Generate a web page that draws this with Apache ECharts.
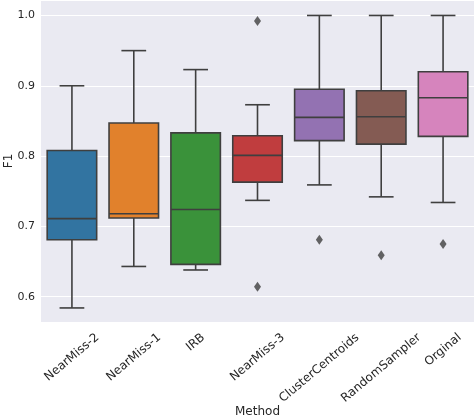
<!DOCTYPE html>
<html>
<head>
<meta charset="utf-8">
<script src="https://cdn.jsdelivr.net/npm/echarts@6/dist/echarts.min.js"></script>
<style>
  html, body { margin: 0; padding: 0; background: #fff; }
  #chart { width: 474px; height: 418px; }
</style>
</head>
<body>
<div id="chart"></div>
<script>
  const methods = ["NearMiss-2", "NearMiss-1", "IRB", "NearMiss-3", "ClusterCentroids", "RandomSampler", "Orginal"];
  const whiskerLow = [0.584, 0.643, 0.638, 0.737, 0.759, 0.742, 0.734];
  const q1 = [0.681, 0.712, 0.646, 0.763, 0.822, 0.817, 0.828];
  const median = [0.711, 0.718, 0.724, 0.801, 0.855, 0.856, 0.883];
  const q3 = [0.808, 0.847, 0.833, 0.829, 0.895, 0.893, 0.920];
  const whiskerHigh = [0.900, 0.950, 0.923, 0.873, 1.000, 1.000, 1.000];
  const outliers = [[3, 0.992], [3, 0.614], [4, 0.681], [5, 0.659], [6, 0.675]];
  const boxColors = ["#3274a1", "#e1812c", "#3a923a", "#c03d3e", "#9372b2", "#845b53", "#d684bd"];

  const yMin = 0.564;
  const yMax = 1.022;
  const edge = "#3f3f3f";
  const textColor = "#262626";
  const font = "DejaVu Sans";

  const boxData = methods.map((m, i) => [i, whiskerLow[i], q1[i], median[i], q3[i], whiskerHigh[i]]);

  function renderBox(params, api) {
    const i = api.value(0);
    const band = api.size([1, 0])[0];
    const half = band * 0.4;
    const cap = band * 0.2;
    const x = api.coord([i, api.value(1)])[0];
    const yLo = api.coord([i, api.value(1)])[1];
    const yQ1 = api.coord([i, api.value(2)])[1];
    const yMed = api.coord([i, api.value(3)])[1];
    const yQ3 = api.coord([i, api.value(4)])[1];
    const yHi = api.coord([i, api.value(5)])[1];
    const ls = { stroke: edge, lineWidth: 1.6 };
    return {
      type: "group",
      children: [
        { type: "line", shape: { x1: x, y1: yLo, x2: x, y2: yQ1 }, style: ls },
        { type: "line", shape: { x1: x, y1: yHi, x2: x, y2: yQ3 }, style: ls },
        { type: "line", shape: { x1: x - cap, y1: yLo, x2: x + cap, y2: yLo }, style: ls },
        { type: "line", shape: { x1: x - cap, y1: yHi, x2: x + cap, y2: yHi }, style: ls },
        {
          type: "rect",
          shape: { x: x - half, y: yQ3, width: half * 2, height: yQ1 - yQ3 },
          style: { fill: boxColors[i], stroke: edge, lineWidth: 1.6 }
        },
        { type: "line", shape: { x1: x - half, y1: yMed, x2: x + half, y2: yMed }, style: ls }
      ]
    };
  }

  const chart = echarts.init(document.getElementById("chart"));
  chart.setOption({
    animation: false,
    grid: {
      left: 41, right: 0, top: 0, bottom: 96,
      outerBoundsMode: "none",
      show: true, backgroundColor: "#eaeaf2", borderWidth: 0
    },
    xAxis: {
      type: "category",
      data: methods,
      name: "Method",
      nameLocation: "middle",
      nameGap: 84,
      nameMoveOverlap: false,
      nameTextStyle: { color: textColor, fontSize: 12, fontFamily: font },
      axisLine: { show: false },
      axisTick: { show: false },
      axisLabel: { show: false },
      splitLine: { show: false }
    },
    yAxis: {
      type: "value",
      min: yMin,
      max: yMax,
      name: "F1",
      nameLocation: "middle",
      nameGap: 26,
      nameMoveOverlap: false,
      nameTextStyle: { color: textColor, fontSize: 12, fontFamily: font },
      axisLine: { show: false },
      axisTick: { show: false },
      axisLabel: {
        margin: 6,
        color: textColor,
        fontSize: 11,
        fontFamily: font,
        formatter: (v) => (Math.abs(v * 10 - Math.round(v * 10)) < 1e-6 ? v.toFixed(1) : "")
      },
      splitLine: { show: true, lineStyle: { color: "#ffffff", width: 1.2 } }
    },
    series: [
      {
        type: "custom",
        renderItem: renderBox,
        data: boxData,
        encode: { x: 0, y: [1, 2, 3, 4, 5] }
      },
      {
        type: "scatter",
        data: outliers,
        symbol: "diamond",
        symbolSize: [7, 10],
        itemStyle: { color: edge },
        z: 5
      }
    ]
  });

  // matplotlib-style tick labels: rotated, box centred under the tick, top just below the axes
  const labelFont = "12px \"" + font + "\"";
  const angle = 40 * Math.PI / 180;
  const ctx = document.createElement("canvas").getContext("2d");
  ctx.font = labelFont;
  const axisBottom = chart.convertToPixel({ yAxisIndex: 0 }, yMin);
  chart.setOption({
    graphic: methods.map((m, i) => {
      const w = ctx.measureText(m).width;
      const h = 13;
      return {
        type: "text",
        x: chart.convertToPixel({ xAxisIndex: 0 }, i),
        y: axisBottom + 9 + (w * Math.sin(angle) + h * Math.cos(angle)) / 2,
        rotation: angle,
        style: {
          text: m,
          fill: textColor,
          font: labelFont,
          align: "center",
          verticalAlign: "middle"
        }
      };
    })
  });
</script>
</body>
</html>
